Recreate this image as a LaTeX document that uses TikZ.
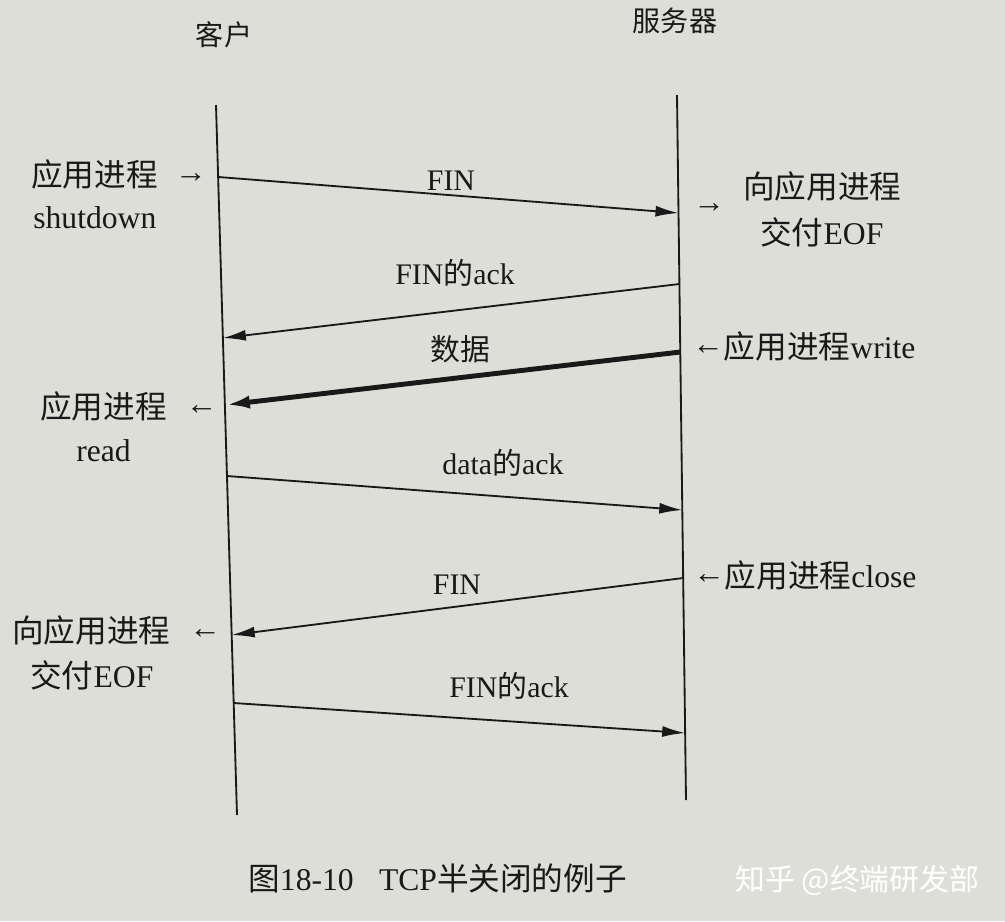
\documentclass[tikz,border=0pt]{standalone}
\usepackage{fontspec}
\setmainfont{Liberation Serif}
\newfontfamily\cjk{Noto Sans CJK SC}
\usetikzlibrary{arrows.meta}
\definecolor{paper}{RGB}{222,222,217}
\definecolor{ink}{RGB}{25,25,25}
\newcommand\zh[1]{{\cjk #1}}
\newcommand\ra{\raisebox{0.12em}{→}}
\newcommand\la{\raisebox{0.12em}{←}}
\begin{document}
\begin{tikzpicture}[x=0.02cm,y=-0.02cm,
  life/.style={draw=ink, line width=1.05pt},
  msg/.style={draw=ink, line width=1.05pt, -{Latex[length=4.6mm,width=2.2mm]}},
  datamsg/.style={draw=ink, line width=2.8pt, -{Latex[length=5mm,width=2.6mm]}},
  side/.style={inner sep=0pt, text=ink, anchor=west, font=\fontsize{18}{21}\selectfont},
  lbl/.style={inner sep=0pt, text=ink, font=\fontsize{17}{20}\selectfont},
  head/.style={inner sep=0pt, text=ink, font=\fontsize{16}{19}\selectfont},
  wmark/.style={inner sep=0pt, white, font=\fontsize{17}{20}\selectfont}]
\fill[paper] (0,0) rectangle (1005,921);
\useasboundingbox (0,0) rectangle (1005,921);

% lifelines
\coordinate (ct) at (216,105);
\coordinate (cb) at (237,815);
\coordinate (st) at (677,95);
\coordinate (sb) at (686,800);
\draw[life] (ct) -- (cb);
\draw[life] (st) -- (sb);
\node[head] (client) at (224,35) {\zh{客户}};
\node[head] (server) at (675,21) {\zh{服务器}};

% message end points on the lifelines
\coordinate (c1) at (218.4,177);
\coordinate (s1) at (678.5,213);
\coordinate (s2) at (679.4,284);
\coordinate (c2) at (222.9,338);
\coordinate (s3) at (680.3,352);
\coordinate (c3) at (224.9,405);
\coordinate (c4) at (227.0,476);
\coordinate (s4) at (682.3,510);
\coordinate (s5) at (683.2,578);
\coordinate (c5) at (231.7,635);
\coordinate (c6) at (233.7,703);
\coordinate (s6) at (685.2,733);

\draw[msg] (c1) -- (s1);
\draw[msg] (s2) -- (c2);
\draw[datamsg] (s3) -- (c3);
\draw[msg] (c4) -- (s4);
\draw[msg] (s5) -- (c5);
\draw[msg] (c6) -- (s6);

% message labels
\node[lbl] (l1) at (451,181) {FIN};
\node[lbl] (l2) at (455,273) {FIN\zh{的}ack};
\node[lbl] (l3) at (460,349) {\zh{数据}};
\node[lbl] (l4) at (503,463) {data\zh{的}ack};
\node[lbl] (l5) at (457,585) {FIN};
\node[lbl] (l6) at (509,686) {FIN\zh{的}ack};

% side texts
\node[side] (a1) at (31,174) {\zh{应用进程}\hspace{0.55em}\ra};
\node[side] (a2) at (33,218) {shutdown};
\node[side] (b0) at (693,210) {\ra};
\node[side] (b1) at (743,186) {\zh{向应用进程}};
\node[side] (b2) at (760,232) {\zh{交付}EOF};
\node[side] (b3) at (692,346) {\la\zh{应用进程}write};
\node[side] (a3) at (40,406) {\zh{应用进程}\hspace{0.6em}\la};
\node[side] (a4) at (76,451) {read};
\node[side] (b4) at (693,575) {\la\zh{应用进程}close};
\node[side] (a5) at (12,630) {\zh{向应用进程}\hspace{0.6em}\la};
\node[side] (a6) at (30,675) {\zh{交付}EOF};

% caption and watermark
\node[side] (cap) at (248,878) {\zh{图}18-10\hspace{0.8em}TCP\zh{半关闭的例子}};
\node[wmark, anchor=west] (wm) at (735,880) {\zh{知乎 @终端研发部}};
\end{tikzpicture}
\end{document}
